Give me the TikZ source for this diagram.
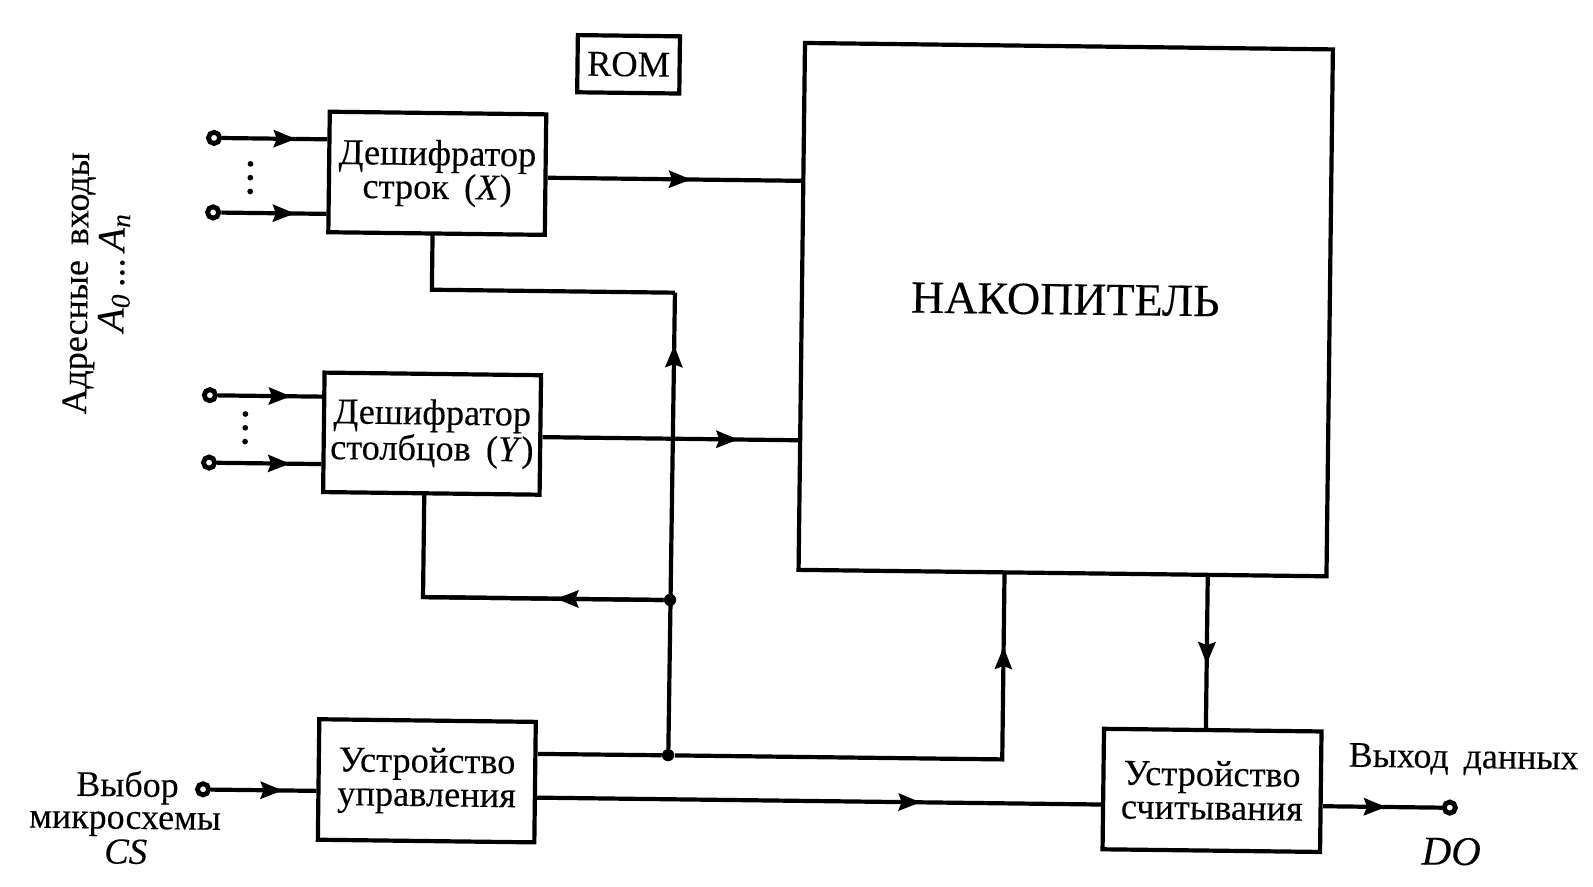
\documentclass[tikz,border=0pt]{standalone}
\usepackage{fontspec}
\setmainfont{Liberation Serif}[FakeBold=0.2]
\usetikzlibrary{arrows.meta,decorations.markings}
\tikzset{
	blockbox/.style={draw, line width=2.1pt, minimum width=#1, inner sep=0pt, align=center, font=\fontsize{17.8}{16.5}\selectfont},
	port/.style={circle, draw, line width=2.4pt, fill=white, inner sep=0pt, minimum size=5.5pt},
	dotnode/.style={circle, fill=black, inner sep=0pt, minimum size=6pt},
	label/.style={inner sep=0pt, align=center, font=\fontsize{17.6}{16}\selectfont},
	link/.style={line width=2.1pt},
	flow/.style={link, postaction={decorate}, decoration={markings, mark=at position #1 with {\arrow{Stealth[length=11pt,width=8.5pt,inset=1.5pt]}}}}
}
\begin{document}
\begin{tikzpicture}[x=0.5pt, y=-0.5pt]
	\useasboundingbox (0, 0) rectangle (1593, 887);
	\begin{scope}[scale=1.0212, rotate around={-0.7:(780, 434)}, transform shape]
		% blocks
		\node[blockbox=106pt, minimum height=59pt] (decX) at (425, 174) {Дешифратор\\строк\, (\textit{X})};
		\node[blockbox=106pt, minimum height=58.5pt] (decY) at (423, 429) {Дешифратор\\столбцов\, (\textit{Y})};
		\node[blockbox=106pt, minimum height=59pt] (ctrl) at (422, 769) {Устройство\\управления};
		\node[blockbox=106.5pt, minimum height=59pt] (read) at (1191, 769) {Устройство\\считывания};
		\node[blockbox=258.5pt, minimum height=258pt] (mem) at (1042, 300) {};
		\node[label, font=\fontsize{22.5}{24}\selectfont] (memText) at (1041.5, 290) {НАКОПИТЕЛЬ};
		\node[blockbox=50pt, minimum height=28pt] (rom) at (611, 65) {ROM};
		% ports
		\node[port] (inXa) at (206, 142) {};
		\node[port] (inXb) at (206, 215) {};
		\node[port] (inYa) at (205, 394) {};
		\node[port] (inYb) at (205, 460) {};
		\node[port] (inCS) at (203, 780) {};
		\node[port] (outDO) at (1424, 783) {};
		% junctions
		\node[dotnode] (jtop) at (658, 589) {};
		\node[dotnode] (jbot) at (658, 741) {};
		\coordinate (ctrlA) at (ctrl.east |- jbot);
		\coordinate (ctrlB) at (ctrl.east |- 0, 784);
		\coordinate (decXdown) at (421, 233);
		\coordinate (decYdown) at (416, 487);
		\coordinate (memIn) at (985, 559);
		\coordinate (memOut) at (1184, 559);
		\coordinate (xOut) at (decX.east |- 0, 177);
		\coordinate (yOut) at (decY.east |- 0, 431);
		\coordinate (xTurn) at (659, 288);
		% connectors
		\draw[flow=0.70] (inXa) -- (inXa -| decX.west);
		\draw[flow=0.70] (inXb) -- (inXb -| decX.west);
		\draw[flow=0.70] (inYa) -- (inYa -| decY.west);
		\draw[flow=0.70] (inYb) -- (inYb -| decY.west);
		\draw[flow=0.68] (inCS) -- (inCS -| ctrl.west);
		\draw[flow=0.565] (xOut) -- (xOut -| mem.west);
		\draw[flow=0.766] (yOut) -- (yOut -| mem.west);
		\draw[link] (decXdown) |- (xTurn);
		\draw[link] (decYdown) |- (jtop);
		\draw[flow=0.885] (jbot) -- (xTurn);
		\draw[flow=0.446] (jtop) -- (decYdown |- jtop);
		\draw[link] (ctrlA) -- (jbot);
		\draw[flow=0.857] (jbot) -| (memIn);
		\draw[flow=0.68] (ctrlB) -- (ctrlB -| read.west);
		\draw[flow=0.58] (memOut) -- (memOut |- read.north);
		\draw[flow=0.53] (read.east |- outDO) -- (outDO);
		% labels
		\node[label, rotate=90] (addr) at (76, 286) {Адресные\, входы};
		\node[label, rotate=90, font=\fontsize{19}{19}\selectfont] (addrN) at (110, 275) {\textit{A}$_{\mathit{0}}$\,...\,\textit{A}$_{\mathit{n}}$};
		\node[label] (select) at (129, 779) {Выбор};
		\node[label] (chip) at (127, 815) {микросхемы};
		\node[label, font=\fontsize{18}{18}\selectfont\itshape] (cs) at (128, 842) {CS};
		\node[label] (dataOut) at (1437, 736) {Выход\, данных};
		\node[label, font=\fontsize{20}{20}\selectfont\itshape] (do) at (1426, 826) {DO};
		% dots
		\foreach \y in {0, 1, 2} {
			\node[dotnode, minimum size=2.8pt] (dX\y) at (242, 167 + 13.5*\y) {};
			\node[dotnode, minimum size=2.8pt] (dY\y) at (240, 412 + 13.5*\y) {};
		}
	\end{scope}
\end{tikzpicture}
\end{document}
